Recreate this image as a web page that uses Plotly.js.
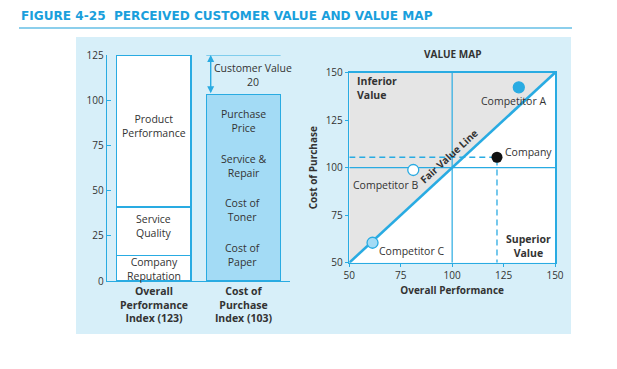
<!DOCTYPE html>
<html><head><meta charset="utf-8">
<script src="https://cdn.plot.ly/plotly-3.0.1.min.js"></script>
<style>html,body{margin:0;padding:0;background:#fff}</style>
</head><body><div id="chart" style="width:617px;height:369px"></div>
<script>
// ---------- data ----------
const barCategories = ['Overall Performance Index (123)', 'Cost of Purchase Index (103)'];
const barCategoryLabels = ['Overall<br>Performance<br>Index (123)', 'Cost of<br>Purchase<br>Index (103)'];
const performanceSegments = ['Company<br>Reputation', 'Service<br>Quality', 'Product<br>Performance'];
const performanceValues = [14, 27, 84];
const costSegments = ['Purchase<br>Price', 'Service &<br>Repair', 'Cost of<br>Toner', 'Cost of<br>Paper'];
const costOfPurchase = 103;
const customerValueLabel = 'Customer Value<br>20';
const leftTicks = [0, 25, 50, 75, 100, 125];

const mapRange = [50, 150];
const mapTicks = [50, 75, 100, 125, 150];
const fairValuePoint = 100;
const competitorNames = ['Competitor A', 'Competitor B', 'Competitor C'];
const competitorPerformance = [132.4, 81.1, 61.3];
const competitorCost = [142.3, 98.8, 60.5];
const companyName = 'Company';
const companyPerformance = 121.8;
const companyCost = 105.5;

// ---------- styling ----------
const BLUE = '#29abe2';
const TXT = '#333333';
const FONT = 'Open Sans, Noto Sans, sans-serif';
const W = 617, H = 369;
const px = v => v / W;
const py = v => 1 - v / H;

const performanceTotal = performanceValues.reduce((a, b) => a + b, 0);
const segLabelY = [6.7, 30.5, 86];
const costLabelY = [88.4, 63.8, 39.1, 14.2];

const traces = [];
performanceValues.forEach((v, i) => {
  traces.push({
    type: 'bar', x: [barCategories[0]], y: [v], width: 0.83,
    marker: {color: '#ffffff', line: {color: BLUE, width: 1.3}},
    xaxis: 'x', yaxis: 'y', hoverinfo: 'skip', showlegend: false
  });
});
traces.push({
  type: 'bar', x: [barCategories[1]], y: [costOfPurchase], width: 0.83,
  marker: {color: '#a3dbf5', line: {color: BLUE, width: 1.3}},
  xaxis: 'x', yaxis: 'y', hoverinfo: 'skip', showlegend: false
});

// value map
traces.push({
  type: 'scatter', mode: 'lines',
  x: [mapRange[0], mapRange[0], mapRange[1], mapRange[0]],
  y: [mapRange[0], mapRange[1], mapRange[1], mapRange[0]],
  fill: 'toself', fillcolor: '#e5e5e5', line: {width: 0},
  xaxis: 'x2', yaxis: 'y2', hoverinfo: 'skip', showlegend: false
});
// quadrant lines through the fair value point
traces.push({
  type: 'scatter', mode: 'lines',
  x: [fairValuePoint, fairValuePoint], y: mapRange,
  line: {color: BLUE, width: 1.2},
  xaxis: 'x2', yaxis: 'y2', hoverinfo: 'skip', showlegend: false
});
traces.push({
  type: 'scatter', mode: 'lines',
  x: mapRange, y: [fairValuePoint, fairValuePoint],
  line: {color: BLUE, width: 1.2},
  xaxis: 'x2', yaxis: 'y2', hoverinfo: 'skip', showlegend: false
});
traces.push({
  type: 'scatter', mode: 'lines',
  x: [mapRange[0], companyPerformance, companyPerformance],
  y: [companyCost, companyCost, mapRange[0]],
  line: {color: BLUE, width: 1.3, dash: '6px,4px'},
  xaxis: 'x2', yaxis: 'y2', hoverinfo: 'skip', showlegend: false
});
traces.push({
  type: 'scatter', mode: 'lines', x: mapRange, y: mapRange,
  line: {color: BLUE, width: 2.6},
  xaxis: 'x2', yaxis: 'y2', hoverinfo: 'skip', showlegend: false
});
traces.push({
  type: 'scatter', mode: 'markers',
  x: competitorPerformance, y: competitorCost,
  marker: {size: 11, color: [BLUE, '#ffffff', '#a3dbf5'], line: {color: BLUE, width: 1.3}},
  xaxis: 'x2', yaxis: 'y2', hoverinfo: 'skip', showlegend: false
});
traces.push({
  type: 'scatter', mode: 'markers',
  x: [companyPerformance], y: [companyCost],
  marker: {size: 11, color: '#111111'},
  xaxis: 'x2', yaxis: 'y2', hoverinfo: 'skip', showlegend: false
});

const annotations = [];
function ann(o) { annotations.push(Object.assign({showarrow: false, font: {family: FONT, size: 10.5, color: TXT}}, o)); }

ann({text: '<b>FIGURE 4-25  PERCEIVED CUSTOMER VALUE AND VALUE MAP</b>', xref: 'paper', yref: 'paper',
  x: px(19), y: py(16), xanchor: 'left', yanchor: 'middle', font: {family: 'DejaVu Sans, sans-serif', size: 12.1, color: '#1a9fdc'}});

performanceSegments.forEach((s, i) => ann({text: s, xref: 'x', yref: 'y', x: 0, y: segLabelY[i], xanchor: 'center', yanchor: 'middle'}));
costSegments.forEach((s, i) => ann({text: s, xref: 'x', yref: 'y', x: 1, y: costLabelY[i], xanchor: 'center', yanchor: 'middle'}));
ann({text: customerValueLabel, xref: 'x', yref: 'y', x: 1.106, y: 114.2, xanchor: 'center', yanchor: 'middle'});
annotations.push({
  xref: 'x', yref: 'y', axref: 'x', ayref: 'y', x: 0.634, y: performanceTotal, ax: 0.634, ay: costOfPurchase,
  text: '', showarrow: true, arrowhead: 2, arrowsize: 1, arrowwidth: 1.4, arrowcolor: BLUE, arrowside: 'end+start'
});

ann({text: '<b>VALUE MAP</b>', xref: 'paper', yref: 'paper', x: px(452), y: py(54), xanchor: 'center', yanchor: 'middle', font: {family: FONT, size: 10, color: TXT}});
ann({text: '<b>Inferior<br>Value</b>', xref: 'paper', yref: 'paper', x: px(355), y: py(88), xanchor: 'left', yanchor: 'middle', align: 'left'});
ann({text: '<b>Superior<br>Value</b>', xref: 'paper', yref: 'paper', x: px(528.5), y: py(246), xanchor: 'center', yanchor: 'middle', align: 'center'});
ann({text: competitorNames[0], xref: 'paper', yref: 'paper', x: px(513), y: py(101), xanchor: 'center', yanchor: 'middle'});
ann({text: competitorNames[1], xref: 'paper', yref: 'paper', x: px(385), y: py(185), xanchor: 'center', yanchor: 'middle'});
ann({text: competitorNames[2], xref: 'paper', yref: 'paper', x: px(411), y: py(251), xanchor: 'center', yanchor: 'middle'});
ann({text: companyName, xref: 'paper', yref: 'paper', x: px(503), y: py(152), xanchor: 'left', yanchor: 'middle'});
ann({text: '<b>Fair Value Line</b>', xref: 'paper', yref: 'paper', x: px(449), y: py(156), xanchor: 'center', yanchor: 'middle', textangle: -42.7, font: {family: FONT, size: 10, color: TXT}});

const shapes = [
  {type: 'rect', xref: 'paper', yref: 'paper', x0: px(76), x1: px(571), y0: py(334), y1: py(37), fillcolor: '#d7eff9', line: {width: 0}, layer: 'below'},
  {type: 'line', xref: 'paper', yref: 'paper', x0: px(19), x1: px(572), y0: py(28), y1: py(28), line: {color: '#8ccfec', width: 2}},
  {type: 'rect', xref: 'x2 domain', yref: 'y2 domain', x0: 0, x1: 1, y0: 0, y1: 1, fillcolor: '#ffffff', line: {width: 0}, layer: 'below'},
  {type: 'line', xref: 'x', yref: 'y', x0: 1 - 0.415, x1: 1 + 0.415, y0: performanceTotal, y1: performanceTotal, line: {color: BLUE, width: 1.2}}
];

const tickFont = {family: FONT, size: 10, color: TXT};
const layout = {
  width: W, height: H, autosize: false,
  margin: {l: 0, r: 0, t: 0, b: 0, pad: 0},
  paper_bgcolor: '#ffffff', plot_bgcolor: 'rgba(0,0,0,0)',
  barmode: 'stack', bargap: 0, showlegend: false,
  font: {family: FONT, color: TXT},
  xaxis: {
    domain: [px(107), px(290)], range: [-0.525, 1.52], type: 'category',
    tickvals: barCategories, ticktext: barCategoryLabels.map(s => '<b>' + s + '</b>'),
    ticks: '', showline: true, linecolor: BLUE, linewidth: 1.3, showgrid: false, zeroline: false,
    tickfont: {family: FONT, size: 10.5, color: TXT}, fixedrange: true, automargin: false
  },
  yaxis: {
    domain: [py(281), py(55)], range: [0, 125], tickvals: leftTicks,
    ticks: 'inside', ticklen: 4, tickcolor: BLUE, showline: true, linecolor: BLUE, linewidth: 1.3,
    showgrid: false, zeroline: false, tickfont: tickFont, automargin: false
  },
  xaxis2: {
    anchor: 'y2', domain: [px(349.3), px(555)], range: mapRange, tickvals: mapTicks,
    ticks: 'outside', ticklen: 3, tickcolor: BLUE, showline: true, mirror: true, linecolor: BLUE, linewidth: 1.5,
    showgrid: false, zeroline: false, tickfont: tickFont, automargin: false,
    title: {text: '<b>Overall Performance</b>', font: {family: FONT, size: 10, color: TXT}, standoff: 6}
  },
  yaxis2: {
    anchor: 'x2', domain: [py(262.7), py(72.7)], range: mapRange, tickvals: mapTicks,
    ticks: 'outside', ticklen: 3, tickcolor: BLUE, showline: true, mirror: true, linecolor: BLUE, linewidth: 1.5,
    showgrid: false, zeroline: false, tickfont: tickFont, automargin: false,
    title: {text: '<b>Cost of Purchase</b>', font: {family: FONT, size: 10, color: TXT}, standoff: 6}
  },
  shapes: shapes,
  annotations: annotations
};

Plotly.newPlot('chart', traces, layout, {staticPlot: true, displayModeBar: false});
</script>
</body></html>
